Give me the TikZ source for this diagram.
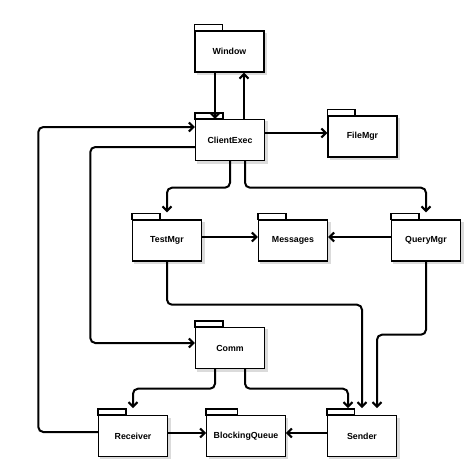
\documentclass[tikz,border=0pt]{standalone}
\usepackage{fontspec}
\setmainfont{Liberation Sans}
\usetikzlibrary{arrows.meta}
\begin{document}
\begin{tikzpicture}[x=1pt,y=-1pt,
  pkgbody/.style={draw=black, line width=1.4pt, fill=white, inner sep=0pt,
    minimum width=69pt, minimum height=41pt, font=\fontsize{8.8}{10}\selectfont\bfseries},
  pkgtab/.style={draw=black, line width=1.5pt, fill=white},
  pkgshadow/.style={fill=black!14},
  conn/.style={line width=2pt, rounded corners=5pt, -{Straight Barb[length=4.5pt,width=9pt,line width=2pt]}}
]
\useasboundingbox (0,0) rectangle (474,469);
\pgfdeclarelayer{background}
\pgfsetlayers{background,main}
\newcommand\pkgnode[5][28]{%
  \node[pkgbody,#5] (#2) at (#3) {#4};
  \begin{pgfonlayer}{background}
  \fill[pkgshadow] ([xshift=2.5pt,yshift=-2.5pt]#2.north west) rectangle ([xshift=2.5pt,yshift=-2.5pt]#2.south east);
  \end{pgfonlayer}
  \draw[pkgtab] (#2.north west) rectangle ++(#1,-6);
}
\pkgnode{Window}{229.5,51.5}{Window}{}
\pkgnode{ClientExec}{230,140}{ClientExec}{}
\pkgnode[27.5]{FileMgr}{362.5,136.5}{FileMgr}{}
\pkgnode{TestMgr}{167,240.5}{TestMgr}{}
\pkgnode{Messages}{293,240.5}{Messages}{}
\pkgnode{QueryMgr}{426,240.5}{QueryMgr}{}
\pkgnode{Comm}{230,348}{Comm}{}
\pkgnode{Receiver}{133,436}{Receiver}{minimum height=40.5pt}
\pkgnode[31.5]{BlockingQueue}{246,436}{BlockingQueue}{minimum width=78.5pt,minimum height=40.5pt}
\pkgnode[27.5]{Sender}{362,436}{Sender}{minimum height=40.5pt}

\draw[conn] ([xshift=-14.5pt]Window.south) -- ([xshift=-15pt]ClientExec.north);
\draw[conn] ([xshift=14pt]ClientExec.north) -- ([xshift=14.5pt]Window.south);
\draw[conn] ([yshift=7pt]ClientExec.east) -- ([yshift=7pt]ClientExec.east -| FileMgr.west);
\draw[conn] ([yshift=4pt]Receiver.west) -- ++(-59.5,0) |- ([yshift=13pt]ClientExec.west);
\draw[conn] ([yshift=-7pt]ClientExec.west) -- ++(-104.5,0) |- ([yshift=5pt]Comm.west);
\draw[conn] (ClientExec.south) -- ++(0,26.5) -| ([yshift=7pt]TestMgr.north);
\draw[conn] ([xshift=15pt]ClientExec.south) -- ++(0,26.5) -| ([yshift=7pt]QueryMgr.north);
\draw[conn] ([yshift=3.5pt]TestMgr.east) -- ([yshift=3.5pt]TestMgr.east -| Messages.west);
\draw[conn] ([yshift=3.5pt]QueryMgr.west) -- ([yshift=3.5pt]QueryMgr.west -| Messages.east);
\draw[conn] (TestMgr.south) -- ++(0,43) -| ([yshift=7pt]Sender.north);
\draw[conn] (QueryMgr.south) -- ++(0,73) -| ([xshift=15pt,yshift=7pt]Sender.north);
\draw[conn] ([xshift=-15pt]Comm.south) -- ++(0,19.5) -| ([yshift=7pt]Receiver.north);
\draw[conn] ([xshift=15pt]Comm.south) -- ++(0,19.5) -| ([xshift=-14pt,yshift=7pt]Sender.north);
\draw[conn] ([yshift=3pt]Receiver.east) -- ([yshift=3pt]Receiver.east -| BlockingQueue.west);
\draw[conn] ([yshift=3pt]Sender.west) -- ([yshift=3pt]Sender.west -| BlockingQueue.east);
\end{tikzpicture}
\end{document}
